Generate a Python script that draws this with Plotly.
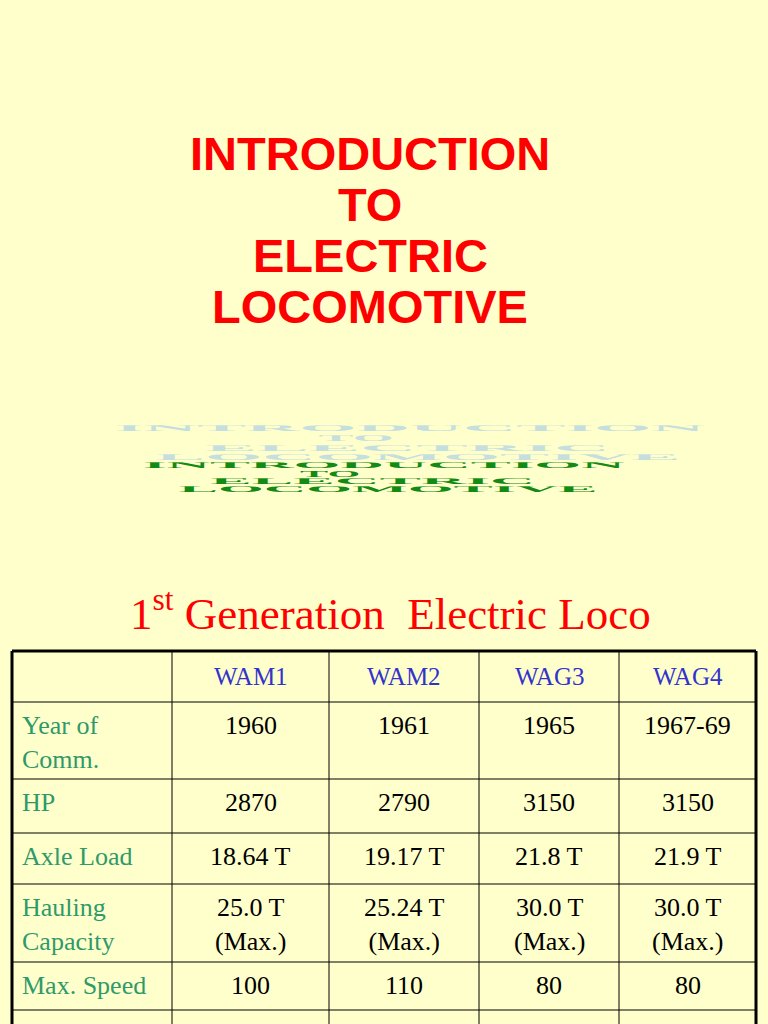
import json
import plotly.graph_objects as go

title_lines = ["INTRODUCTION", "TO", "ELECTRIC", "LOCOMOTIVE"]
loco_names = ["WAM1", "WAM2", "WAG3", "WAG4"]
row_labels = ["Year of<br>Comm.", "HP", "Axle Load", "Hauling<br>Capacity", "Max. Speed", "Sch"]
row_values = [
    ["1960", "1961", "1965", "1967-69"],
    ["2870", "2790", "3150", "3150"],
    ["18.64 T", "19.17 T", "21.8 T", "21.9 T"],
    ["25.0 T<br>(Max.)", "25.24 T<br>(Max.)", "30.0 T<br>(Max.)", "30.0 T<br>(Max.)"],
    ["100", "110", "80", "80"],
    ["", "", "", ""],
]

BG = "#ffffcc"
col_x = [12, 172, 329, 479, 619, 756]
row_y = [651, 702, 779, 833, 884, 962, 1010, 1060]

# word-art: horizontal spans of each line (shadow, then green)
shadow_spans = [(115, 705), (318, 395), (205, 610), (155, 680)]
shadow_y = [428, 438, 448, 457]
green_spans = [(143, 625), (300, 362), (210, 535), (178, 597)]
green_y = [465, 473, 481, 489]
SHADOW = "rgb(197, 222, 222)"
GREEN = "rgb(19, 138, 19)"

fig = go.Figure()
ann = []
shapes = []

for i, t in enumerate(title_lines):
    ann.append(dict(x=370, y=153 + i * 51, text=t, showarrow=False,
                    font=dict(family="Liberation Sans", size=47, color="#ff0000", weight="bold")))

targets = []
for spans, ys, color in [(shadow_spans, shadow_y, SHADOW), (green_spans, green_y, GREEN)]:
    for line, (x0, x1), y in zip(title_lines, spans, ys):
        ann.append(dict(x=(x0 + x1) / 2, y=y, text=line, showarrow=False, height=9,
                        font=dict(family="Liberation Serif", size=11, color=color, weight="bold")))
        targets.append([line, color, x1 - x0])

ann.append(dict(x=390, y=610, text="1<sup>st</sup> Generation  Electric Loco", showarrow=False,
                font=dict(family="Liberation Serif", size=45, color="#ff0000")))

# table grid
for x in col_x:
    w = 3 if x in (col_x[0], col_x[-1]) else 1
    shapes.append(dict(type="line", x0=x, x1=x, y0=row_y[0], y1=1024, line=dict(color="black", width=w)))
for y in row_y[:-1]:
    w = 3 if y == row_y[0] else 1
    shapes.append(dict(type="line", x0=col_x[0], x1=col_x[-1], y0=y, y1=y, line=dict(color="black", width=w)))

serif = "Liberation Serif"
for j, name in enumerate(loco_names):
    ann.append(dict(x=(col_x[j + 1] + col_x[j + 2]) / 2, y=676, text=name, showarrow=False,
                    font=dict(family=serif, size=25, color="#3333cc")))
for i, (lab, vals) in enumerate(zip(row_labels, row_values)):
    ytop = row_y[i + 1]
    ann.append(dict(x=20, y=ytop + 7, text=lab, showarrow=False, xanchor="left", yanchor="top", align="left",
                    font=dict(family=serif, size=26, color="#2e9a6a")))
    for j, v in enumerate(vals):
        if v:
            ann.append(dict(x=(col_x[j + 1] + col_x[j + 2]) / 2, y=ytop + 7, text=v, showarrow=False,
                            yanchor="top", font=dict(family=serif, size=26, color="black")))

fig.update_layout(
    width=768, height=1024, margin=dict(l=0, r=0, t=0, b=0),
    paper_bgcolor=BG, plot_bgcolor=BG,
    xaxis=dict(range=[0, 768], visible=False, fixedrange=True),
    yaxis=dict(range=[1024, 0], visible=False, fixedrange=True),
    annotations=ann, shapes=shapes, showlegend=False,
)

# stretch the word-art lines sideways, like the slide's squashed text
js = """
document.body.style.margin='0';document.body.style.background='#ffffcc';
var T = %s;
document.querySelectorAll('g.annotation-text-g text').forEach(function(el){
  var fill = (el.style.fill || '').replace(/\\s/g,'');
  T.forEach(function(t){
    if (el.textContent === t[0] && fill === t[1].replace(/\\s/g,'')) {
      var b = el.getBBox(); var cx = b.x + b.width/2, cy = b.y + b.height/2;
      var sx = t[2] / b.width, sy = 0.75;
      var old = el.getAttribute('transform') || '';
      el.setAttribute('transform', 'translate('+cx+','+cy+') scale('+sx+','+sy+') translate('+(-cx)+','+(-cy)+') ' + old);
    }
  });
});
""" % json.dumps(targets)
fig.write_html("out.html", config={"displayModeBar": False}, post_script=js)
